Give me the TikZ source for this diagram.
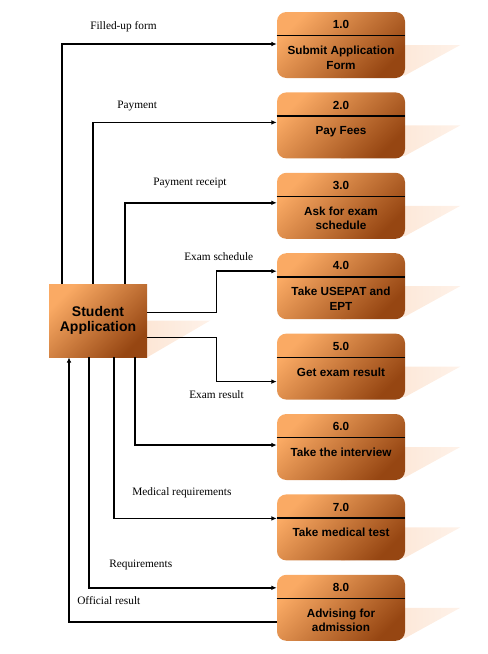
\documentclass[tikz,border=0pt]{standalone}
\usepackage{fontspec}
\setmainfont{Liberation Serif}
\setsansfont{Liberation Sans}
\usetikzlibrary{arrows.meta, positioning, backgrounds}
\definecolor{orlight}{RGB}{250,170,100}
\definecolor{ormid}{RGB}{228,128,58}
\definecolor{ordark}{RGB}{150,70,18}
\definecolor{peach}{RGB}{252,222,200}

\begin{document}
\begin{tikzpicture}[x=0.75pt, y=-0.75pt, node distance=10.4pt,
    proc/.style={rounded corners=7pt, top color=orlight, middle color=ormid, bottom color=ordark, shading angle=45, minimum width=96pt, minimum height=49.5pt, inner sep=0pt},
    sabox/.style={top color=orlight, middle color=ormid, bottom color=ordark, shading angle=45, minimum width=73.5pt, minimum height=54.75pt, align=center, font=\sffamily\bfseries\fontsize{10.5}{11}\selectfont},
    ptext/.style={font=\sffamily\bfseries\fontsize{8.8}{11}\selectfont, align=center, inner sep=0pt},
    flow/.style={line width=1.1pt, -{Latex[length=4pt, width=3.5pt]}},
    lbl/.style={anchor=west, inner sep=0pt, font=\fontsize{8.5}{10}\selectfont},
    shadowfill/.style={left color=peach, right color=peach!40!white}]
  \useasboundingbox (0,0) rectangle (487,654);

  % processes
  \node[proc] (p1) at (341,45) {};
  \foreach \i [count=\j from 1] in {2,...,8}
    \node[proc, below=of p\j] (p\i) {};
  \foreach \i/\txt in {1/{Submit Application\\Form}, 2/Pay Fees, 3/{Ask for exam\\schedule}, 4/{Take USEPAT and\\EPT}, 5/Get exam result, 6/Take the interview, 7/Take medical test, 8/{Advising for\\admission}} {
    \node[ptext] (n\i) at ([shift={(0,13)}]p\i.north) {\i.0};
    \draw[line width=1.1pt] ([shift={(0,24)}]p\i.north west) -- ([shift={(0,24)}]p\i.north east);
    \node[ptext, anchor=north] (t\i) at ([shift={(0,34)}]p\i.north) {\txt};
  }

  % external entity
  \node[sabox] (sa) at (98,320.5) {Student\\Application};

  \begin{scope}[on background layer]
    \foreach \i in {1,...,8}
      \path[shadowfill] (p\i.center) -- ([shift={(55,0)}]p\i.east) -- ([shift={(0,-3)}]p\i.south east) -- (p\i.south) -- cycle;
    \path[shadowfill] (sa.center) -- ([shift={(63,0)}]sa.east) -- (sa.south east) -- (sa.south) -- cycle;
  \end{scope}

  % data flows
  \draw[flow] ([shift={(-36,0)}]sa.north) |- ([shift={(0,-1)}]p1.west);
  \draw[flow] ([shift={(-5,0)}]sa.north) |- ([shift={(0,-3)}]p2.west);
  \draw[flow] ([shift={(27,0)}]sa.north) |- ([shift={(0,-3)}]p3.west);
  \draw[flow] ([shift={(0,-8)}]sa.east) -- ++(69,0) |- ([shift={(0,-15)}]p4.west);
  \draw[flow] ([shift={(0,17)}]sa.east) -- ++(69,0) |- ([shift={(0,15)}]p5.west);
  \draw[flow] ([shift={(37,0)}]sa.south) |- ([shift={(0,-2)}]p6.west);
  \draw[flow] ([shift={(16,0)}]sa.south) |- ([shift={(0,-9)}]p7.west);
  \draw[flow] ([shift={(-9,0)}]sa.south) |- ([shift={(0,-20)}]p8.west);
  \draw[flow] ([shift={(0,14)}]p8.west) -| ([shift={(-29,0)}]sa.south);

  % flow labels
  \node[lbl] (lform) at (90,27) {Filled-up form};
  \node[lbl] (lpay) at (117,106) {Payment};
  \node[lbl] (lreceipt) at (153,183) {Payment receipt};
  \node[lbl] (lsched) at (184,257) {Exam schedule};
  \node[lbl] (lresult) at (189,395) {Exam result};
  \node[lbl] (lmed) at (132,493) {Medical requirements};
  \node[lbl] (lreq) at (109,565) {Requirements};
  \node[lbl] (lofficial) at (77,601) {Official result};
\end{tikzpicture}
\end{document}
